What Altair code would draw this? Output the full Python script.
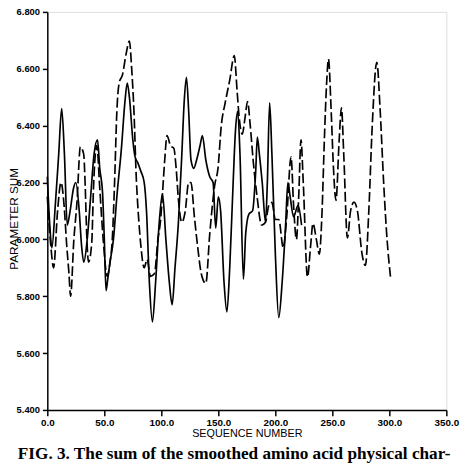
import altair as alt
import pandas as pd

# Solid curve (sequence number, parameter sum)
solid_seq = [0, 2, 4, 7, 10, 12.6, 15, 17.5, 20, 23, 25, 28, 30, 32, 35, 38, 41, 44, 46, 48.5,
             50, 51.5, 53, 55, 58, 61, 65, 68, 70.1, 72, 75, 77, 79.3, 82, 85, 87, 89.5, 92.2, 95, 98,
             101, 104, 107, 109.5, 112, 115, 118, 120, 122, 124, 126, 128.5, 131, 134, 136, 139,
             142.5, 145.4, 147.7, 150, 152, 155, 157.5, 160, 163, 165, 167, 169, 172, 174, 177, 180,
             182.8, 184.2, 186, 188.5, 191.4, 193, 195, 197, 200, 203, 206, 209, 211, 213, 216, 220, 223]
solid_val = [6.22, 6.06, 5.97, 6.12, 6.30, 6.46, 6.30, 6.05, 6.10, 6.18, 6.20, 6.10, 5.98, 5.92, 6.00,
             6.15, 6.30, 6.35, 6.25, 6.16, 6.00, 5.82, 5.86, 5.92, 6.00, 6.15, 6.32, 6.48, 6.55, 6.50,
             6.35, 6.29, 6.27, 6.24, 6.20, 6.10, 5.85, 5.71, 5.85, 6.05, 6.16, 6.00, 5.85, 5.77, 5.90,
             6.06, 6.30, 6.48, 6.57, 6.45, 6.28, 6.25, 6.28, 6.33, 6.365, 6.28, 6.22, 6.20, 6.04, 6.15,
             6.10, 5.85, 5.745, 5.90, 6.20, 6.38, 6.45, 6.30, 5.86, 6.02, 6.09, 6.10, 6.24, 6.36, 6.30,
             6.20, 6.06, 6.20, 6.48, 6.30, 5.95, 5.725, 5.85, 6.05, 6.20, 6.15, 6.08, 6.12, 6.05]

# Dashed curve (sequence number, parameter sum)
dashed_seq = [0, 3, 5.5, 9, 12, 14.7, 17, 19, 20.4, 23.3, 26, 29, 31.9, 33.3, 34.7, 36.2, 39, 40.5,
              43.4, 46, 49, 52.6, 55, 57, 59, 61, 63, 66, 69, 72, 74, 76, 78, 80, 82, 85, 87.5, 90.5,
              94, 97, 99.4, 101, 103, 105, 108, 111, 113, 115, 118, 121, 124, 126, 129, 132, 135, 139,
              142.5, 146.8, 149.7, 152.6, 156, 160, 164, 166.5, 168.5, 171, 173.5, 175.6, 178, 180.5,
              184, 188, 191.4, 194.3, 197, 200, 203, 207, 210, 213.8, 216, 218.5, 220.5, 222.5, 224.5,
              228.2, 231, 233, 236, 238.6, 241, 243, 245, 246.6, 249, 251, 253.2, 256, 258, 260, 263.2,
              266, 269, 272, 276, 279, 282, 285, 289, 292, 295, 298, 301]
dashed_val = [6.15, 5.98, 5.90, 6.10, 6.20, 6.12, 5.98, 5.88, 5.80, 6.00, 6.13, 6.325, 6.30, 6.18,
              6.00, 5.92, 5.99, 6.18, 6.33, 6.18, 6.00, 5.87, 5.92, 6.00, 6.20, 6.45, 6.55, 6.58, 6.65,
              6.697, 6.60, 6.45, 6.22, 6.08, 5.98, 5.90, 5.93, 5.87, 5.88, 6.00, 6.07, 6.16, 6.28, 6.365,
              6.33, 6.32, 6.25, 6.14, 6.06, 6.10, 6.20, 6.20, 6.08, 5.97, 5.88, 5.845, 6.02, 6.19, 6.25,
              6.40, 6.48, 6.56, 6.646, 6.52, 6.42, 6.37, 6.43, 6.485, 6.40, 6.28, 6.15, 6.05, 6.06, 6.12,
              6.13, 6.07, 6.07, 5.97, 6.08, 6.29, 6.12, 6.00, 6.15, 6.35, 6.20, 5.868, 5.98, 6.056, 6.00,
              5.948, 6.10, 6.35, 6.55, 6.634, 6.45, 6.25, 6.137, 6.35, 6.463, 6.30, 6.005, 6.10, 6.131,
              6.10, 5.95, 5.908, 6.10, 6.40, 6.623, 6.45, 6.20, 6.00, 5.868]

x_ticks = [0, 50, 100, 150, 200, 250, 300, 350]
y_ticks = [5.4, 5.6, 5.8, 6.0, 6.2, 6.4, 6.6, 6.8]
x_title = "SEQUENCE NUMBER"
y_title = "PARAMETER SUM"
caption = "FIG. 3. The sum of the smoothed amino acid physical char-"

solid_df = pd.DataFrame({"seq": solid_seq, "val": solid_val})
dashed_df = pd.DataFrame({"seq": dashed_seq, "val": dashed_val})
cap_df = pd.DataFrame({"t": [caption]})

label_font = "Liberation Sans"

x_enc = alt.X(
    "seq:Q",
    scale=alt.Scale(domain=[0, 350], nice=False, zero=False),
    axis=alt.Axis(values=x_ticks, format=".1f", title=x_title, grid=False,
                  labelFont=label_font, labelFontWeight="bold", labelFontSize=10,
                  labelColor="black", tickColor="black", domainColor="black",
                  tickSize=6, tickWidth=1.5, domainWidth=1.5, labelPadding=2,
                  titleFont=label_font, titleFontSize=11, titleFontWeight="normal",
                  titleColor="black", titlePadding=0, labelFlush=False),
)
y_enc = alt.Y(
    "val:Q",
    scale=alt.Scale(domain=[5.4, 6.8], nice=False, zero=False),
    axis=alt.Axis(values=y_ticks, format=".3f", title=y_title, grid=False,
                  labelFont=label_font, labelFontWeight="bold", labelFontSize=9.5,
                  labelColor="black", tickColor="black", domainColor="black",
                  tickSize=5, tickWidth=1.5, domainWidth=1.5, labelPadding=3,
                  titleFont=label_font, titleFontSize=12, titleFontWeight="normal",
                  titleColor="black", titleX=-34, titleY=210, titleBaseline="middle",
                  labelFlush=False),
)

solid = alt.Chart(solid_df).mark_line(
    color="black", strokeWidth=1.7, interpolate="monotone"
).encode(x=x_enc, y=y_enc)

dashed = alt.Chart(dashed_df).mark_line(
    color="black", strokeWidth=1.7, strokeDash=[10, 3.5], interpolate="monotone"
).encode(x=alt.X("seq:Q"), y=alt.Y("val:Q"))

cap = alt.Chart(cap_df).mark_text(
    align="left", baseline="alphabetic", font="Liberation Serif",
    fontWeight="bold", fontSize=17.5, color="black"
).encode(x=alt.value(-30), y=alt.value(455), text="t:N")

chart = alt.layer(solid, dashed, cap).properties(
    width=406, height=405,
    autosize=alt.AutoSizeParams(type="none"),
    padding={"left": 40, "top": 0, "right": 20, "bottom": 51},
).configure_view(stroke=None).configure(background="white")

chart.save("out.html", embed_options={"renderer": "svg", "actions": False})
